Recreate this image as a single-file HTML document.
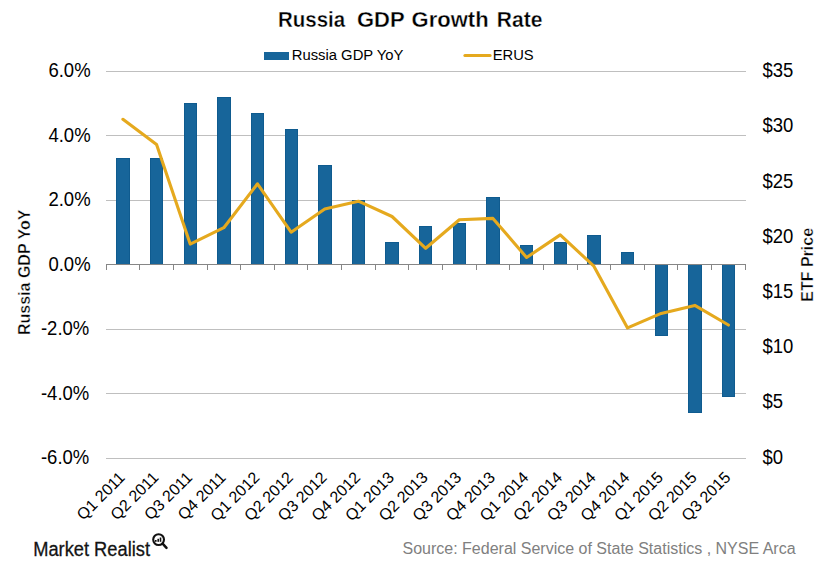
<!DOCTYPE html>
<html><head><meta charset="utf-8"><style>
html,body{margin:0;padding:0;background:#fff;}
svg{display:block;}
text{font-family:"Liberation Sans", sans-serif;}
</style></head><body>
<svg width="836" height="566" viewBox="0 0 836 566">
<rect width="836" height="566" fill="#fff"/>
<line x1="106" y1="71.5" x2="746" y2="71.5" stroke="#bfbfbf" stroke-width="1"/>
<line x1="106" y1="135.5" x2="746" y2="135.5" stroke="#bfbfbf" stroke-width="1"/>
<line x1="106" y1="200.5" x2="746" y2="200.5" stroke="#bfbfbf" stroke-width="1"/>
<line x1="106" y1="329.5" x2="746" y2="329.5" stroke="#bfbfbf" stroke-width="1"/>
<line x1="106" y1="393.5" x2="746" y2="393.5" stroke="#bfbfbf" stroke-width="1"/>
<line x1="106" y1="458.5" x2="746" y2="458.5" stroke="#bfbfbf" stroke-width="1"/>
<rect x="116" y="158" width="14" height="107" fill="#0f5b8f"/>
<rect x="117" y="159" width="12" height="105" fill="#17659a"/>
<rect x="150" y="158" width="13" height="107" fill="#0f5b8f"/>
<rect x="151" y="159" width="11" height="105" fill="#17659a"/>
<rect x="184" y="103" width="13" height="162" fill="#0f5b8f"/>
<rect x="185" y="104" width="11" height="160" fill="#17659a"/>
<rect x="217" y="97" width="14" height="168" fill="#0f5b8f"/>
<rect x="218" y="98" width="12" height="166" fill="#17659a"/>
<rect x="251" y="113" width="13" height="152" fill="#0f5b8f"/>
<rect x="252" y="114" width="11" height="150" fill="#17659a"/>
<rect x="285" y="129" width="13" height="136" fill="#0f5b8f"/>
<rect x="286" y="130" width="11" height="134" fill="#17659a"/>
<rect x="318" y="165" width="14" height="100" fill="#0f5b8f"/>
<rect x="319" y="166" width="12" height="98" fill="#17659a"/>
<rect x="352" y="200" width="13" height="65" fill="#0f5b8f"/>
<rect x="353" y="201" width="11" height="63" fill="#17659a"/>
<rect x="385" y="242" width="14" height="23" fill="#0f5b8f"/>
<rect x="386" y="243" width="12" height="21" fill="#17659a"/>
<rect x="419" y="226" width="13" height="39" fill="#0f5b8f"/>
<rect x="420" y="227" width="11" height="37" fill="#17659a"/>
<rect x="453" y="223" width="13" height="42" fill="#0f5b8f"/>
<rect x="454" y="224" width="11" height="40" fill="#17659a"/>
<rect x="486" y="197" width="14" height="68" fill="#0f5b8f"/>
<rect x="487" y="198" width="12" height="66" fill="#17659a"/>
<rect x="520" y="245" width="13" height="20" fill="#0f5b8f"/>
<rect x="521" y="246" width="11" height="18" fill="#17659a"/>
<rect x="554" y="242" width="13" height="23" fill="#0f5b8f"/>
<rect x="555" y="243" width="11" height="21" fill="#17659a"/>
<rect x="587" y="235" width="14" height="30" fill="#0f5b8f"/>
<rect x="588" y="236" width="12" height="28" fill="#17659a"/>
<rect x="621" y="252" width="13" height="13" fill="#0f5b8f"/>
<rect x="622" y="253" width="11" height="11" fill="#17659a"/>
<rect x="655" y="264" width="13" height="72" fill="#0f5b8f"/>
<rect x="656" y="265" width="11" height="70" fill="#17659a"/>
<rect x="688" y="264" width="14" height="149" fill="#0f5b8f"/>
<rect x="689" y="265" width="12" height="147" fill="#17659a"/>
<rect x="722" y="264" width="13" height="133" fill="#0f5b8f"/>
<rect x="723" y="265" width="11" height="131" fill="#17659a"/>
<line x1="106" y1="264.5" x2="746" y2="264.5" stroke="#868686" stroke-width="1"/>
<line x1="106.5" y1="264.5" x2="106.5" y2="270.0" stroke="#868686" stroke-width="1"/>
<line x1="139.5" y1="264.5" x2="139.5" y2="270.0" stroke="#868686" stroke-width="1"/>
<line x1="173.5" y1="264.5" x2="173.5" y2="270.0" stroke="#868686" stroke-width="1"/>
<line x1="207.5" y1="264.5" x2="207.5" y2="270.0" stroke="#868686" stroke-width="1"/>
<line x1="240.5" y1="264.5" x2="240.5" y2="270.0" stroke="#868686" stroke-width="1"/>
<line x1="274.5" y1="264.5" x2="274.5" y2="270.0" stroke="#868686" stroke-width="1"/>
<line x1="307.5" y1="264.5" x2="307.5" y2="270.0" stroke="#868686" stroke-width="1"/>
<line x1="341.5" y1="264.5" x2="341.5" y2="270.0" stroke="#868686" stroke-width="1"/>
<line x1="375.5" y1="264.5" x2="375.5" y2="270.0" stroke="#868686" stroke-width="1"/>
<line x1="408.5" y1="264.5" x2="408.5" y2="270.0" stroke="#868686" stroke-width="1"/>
<line x1="442.5" y1="264.5" x2="442.5" y2="270.0" stroke="#868686" stroke-width="1"/>
<line x1="476.5" y1="264.5" x2="476.5" y2="270.0" stroke="#868686" stroke-width="1"/>
<line x1="509.5" y1="264.5" x2="509.5" y2="270.0" stroke="#868686" stroke-width="1"/>
<line x1="543.5" y1="264.5" x2="543.5" y2="270.0" stroke="#868686" stroke-width="1"/>
<line x1="577.5" y1="264.5" x2="577.5" y2="270.0" stroke="#868686" stroke-width="1"/>
<line x1="610.5" y1="264.5" x2="610.5" y2="270.0" stroke="#868686" stroke-width="1"/>
<line x1="644.5" y1="264.5" x2="644.5" y2="270.0" stroke="#868686" stroke-width="1"/>
<line x1="677.5" y1="264.5" x2="677.5" y2="270.0" stroke="#868686" stroke-width="1"/>
<line x1="711.5" y1="264.5" x2="711.5" y2="270.0" stroke="#868686" stroke-width="1"/>
<line x1="745.5" y1="264.5" x2="745.5" y2="270.0" stroke="#868686" stroke-width="1"/>
<polyline points="122.92,119.30 156.56,144.50 190.20,244.10 223.84,227.70 257.48,183.80 291.12,232.20 324.76,208.90 358.40,201.20 392.04,216.50 425.68,248.30 459.32,219.70 492.96,218.40 526.60,257.50 560.24,234.90 593.88,266.20 627.52,327.90 661.16,313.40 694.80,305.40 728.44,325.00" fill="none" stroke="#e5a91e" stroke-width="3.1" stroke-linejoin="round" stroke-linecap="round"/>
<text transform="translate(90.6,77.40) scale(0.975,1.07)" text-anchor="end" font-size="19">6.0%</text>
<text transform="translate(90.6,141.90) scale(0.975,1.07)" text-anchor="end" font-size="19">4.0%</text>
<text transform="translate(90.6,206.40) scale(0.975,1.07)" text-anchor="end" font-size="19">2.0%</text>
<text transform="translate(90.6,270.90) scale(0.975,1.07)" text-anchor="end" font-size="19">0.0%</text>
<text transform="translate(89.3,335.40) scale(0.975,1.07)" text-anchor="end" font-size="19">-2.0%</text>
<text transform="translate(89.3,399.90) scale(0.975,1.07)" text-anchor="end" font-size="19">-4.0%</text>
<text transform="translate(89.3,464.40) scale(0.975,1.07)" text-anchor="end" font-size="19">-6.0%</text>
<text transform="translate(762.4,77.20) scale(0.975,1.07)" text-anchor="start" font-size="19">$35</text>
<text transform="translate(762.4,132.41) scale(0.975,1.07)" text-anchor="start" font-size="19">$30</text>
<text transform="translate(762.4,187.63) scale(0.975,1.07)" text-anchor="start" font-size="19">$25</text>
<text transform="translate(762.4,242.84) scale(0.975,1.07)" text-anchor="start" font-size="19">$20</text>
<text transform="translate(762.4,298.06) scale(0.975,1.07)" text-anchor="start" font-size="19">$15</text>
<text transform="translate(762.4,353.27) scale(0.975,1.07)" text-anchor="start" font-size="19">$10</text>
<text transform="translate(762.4,408.49) scale(0.975,1.07)" text-anchor="start" font-size="19">$5</text>
<text transform="translate(762.4,463.70) scale(0.975,1.07)" text-anchor="start" font-size="19">$0</text>
<text transform="translate(30,272.3) rotate(-90)" text-anchor="middle" font-size="16" font-weight="bold" stroke="#fff" stroke-width="0.4">Russia GDP YoY</text>
<text transform="translate(813,264.8) rotate(-90)" text-anchor="middle" font-size="16" font-weight="bold" stroke="#fff" stroke-width="0.4">ETF Price</text>
<text transform="translate(125.92,478.5) rotate(-45)" text-anchor="end" font-size="16">Q1 2011</text>
<text transform="translate(159.56,478.5) rotate(-45)" text-anchor="end" font-size="16">Q2 2011</text>
<text transform="translate(193.20,478.5) rotate(-45)" text-anchor="end" font-size="16">Q3 2011</text>
<text transform="translate(226.84,478.5) rotate(-45)" text-anchor="end" font-size="16">Q4 2011</text>
<text transform="translate(260.48,478.5) rotate(-45)" text-anchor="end" font-size="16">Q1 2012</text>
<text transform="translate(294.12,478.5) rotate(-45)" text-anchor="end" font-size="16">Q2 2012</text>
<text transform="translate(327.76,478.5) rotate(-45)" text-anchor="end" font-size="16">Q3 2012</text>
<text transform="translate(361.40,478.5) rotate(-45)" text-anchor="end" font-size="16">Q4 2012</text>
<text transform="translate(395.04,478.5) rotate(-45)" text-anchor="end" font-size="16">Q1 2013</text>
<text transform="translate(428.68,478.5) rotate(-45)" text-anchor="end" font-size="16">Q2 2013</text>
<text transform="translate(462.32,478.5) rotate(-45)" text-anchor="end" font-size="16">Q3 2013</text>
<text transform="translate(495.96,478.5) rotate(-45)" text-anchor="end" font-size="16">Q4 2013</text>
<text transform="translate(529.60,478.5) rotate(-45)" text-anchor="end" font-size="16">Q1 2014</text>
<text transform="translate(563.24,478.5) rotate(-45)" text-anchor="end" font-size="16">Q2 2014</text>
<text transform="translate(596.88,478.5) rotate(-45)" text-anchor="end" font-size="16">Q3 2014</text>
<text transform="translate(630.52,478.5) rotate(-45)" text-anchor="end" font-size="16">Q4 2014</text>
<text transform="translate(664.16,478.5) rotate(-45)" text-anchor="end" font-size="16">Q1 2015</text>
<text transform="translate(697.80,478.5) rotate(-45)" text-anchor="end" font-size="16">Q2 2015</text>
<text transform="translate(731.44,478.5) rotate(-45)" text-anchor="end" font-size="16">Q3 2015</text>
<text x="278.0" y="27" font-size="22" font-weight="bold" stroke="#fff" stroke-width="0.35" textLength="67.15" lengthAdjust="spacingAndGlyphs">Russia</text>
<text x="356.9" y="27" font-size="22" font-weight="bold" stroke="#fff" stroke-width="0.35" textLength="47.7" lengthAdjust="spacingAndGlyphs">GDP</text>
<text x="411.6" y="27" font-size="22" font-weight="bold" stroke="#fff" stroke-width="0.35" textLength="77.01" lengthAdjust="spacingAndGlyphs">Growth</text>
<text x="496.8" y="27" font-size="22" font-weight="bold" stroke="#fff" stroke-width="0.35" textLength="45.61" lengthAdjust="spacingAndGlyphs">Rate</text>
<rect x="264" y="52" width="25" height="8" fill="#17659a"/>
<text x="291.7" y="59.8" font-size="15.5" textLength="111.8" lengthAdjust="spacingAndGlyphs">Russia GDP YoY</text>
<line x1="464.9" y1="55.4" x2="490.1" y2="55.4" stroke="#e5a91e" stroke-width="3" stroke-linecap="round"/>
<text x="492.7" y="59.8" font-size="15.5" textLength="41" lengthAdjust="spacingAndGlyphs">ERUS</text>
<text x="33.2" y="555.6" font-size="20" fill="#141414" stroke="#141414" stroke-width="0.3" textLength="116.8" lengthAdjust="spacingAndGlyphs">Market Realist</text>
<g fill="#111" stroke="#111"><circle cx="158.6" cy="539.6" r="5.4" fill="none" stroke-width="2.1"/><line x1="162.6" y1="543.6" x2="166.5" y2="547.9" stroke-width="2.5" stroke-linecap="round"/><rect x="155" y="540" width="1.6" height="1.8" stroke="none"/><rect x="157.4" y="538.8" width="1.6" height="3" stroke="none"/><rect x="159.7" y="537.5" width="1.6" height="4.3" stroke="none"/></g>
<text x="402.5" y="553.9" font-size="16" fill="#808080" xml:space="preserve">Source: Federal Service of State Statistics , NYSE Arca</text>
</svg></body></html>
